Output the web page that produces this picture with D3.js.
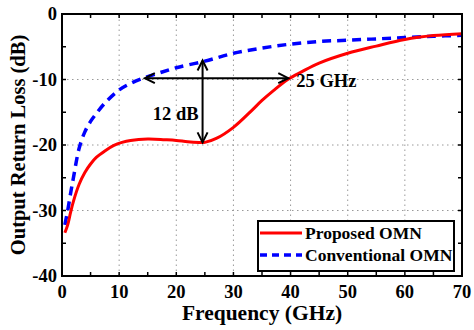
<!DOCTYPE html>
<html><head><meta charset="utf-8">
<script src="https://cdn.jsdelivr.net/npm/d3@7"></script>
<style>body{margin:0;background:#fff}svg{display:block}
text{font-family:"Liberation Serif","Times New Roman",serif;font-weight:bold}</style>
</head><body>
<script>
const proposedF = [0.5,1,1.5,2,3,4,5,6,7.5,9,10.5,12,15,18,20,22,24,25,27,30,33,35,37,39.5,42,45,50,55,60,65,70];
const proposedDB = [-33.4,-32.2,-30.3,-28.6,-26.0,-24.2,-22.9,-21.9,-20.9,-20.1,-19.6,-19.3,-19.1,-19.2,-19.3,-19.5,-19.6,-19.6,-19.0,-17.3,-14.9,-13.2,-11.7,-10.0,-8.8,-7.5,-6.0,-4.9,-3.9,-3.3,-3.0];
const convF = [0.5,1,1.5,2,3,4,5,6,7.5,10,12,14.5,17,20,25,30,35,40,45,50,55,60,65,70];
const convDB = [-32.2,-30.0,-27.4,-25.0,-20.5,-18.0,-16.4,-15.2,-13.6,-11.6,-10.6,-9.7,-9.0,-8.2,-7.2,-6.0,-5.2,-4.6,-4.2,-4.0,-3.8,-3.6,-3.4,-3.25];
const xTicks = [0,10,20,30,40,50,60,70];
const yTicks = [0,-10,-20,-30,-40];
const seriesNames = ["Proposed OMN","Conventional OMN"];
const hArrowF = [14.5, 39.6], hArrowDB = -9.8;
const vArrowF = 24.6, vArrowDB = [-7.1, -19.6];
const labels = ["25 GHz","12 dB"];

const W=474,H=330, m={l:62,r:12,t:14,b:54};
const svg=d3.select("body").append("svg").attr("width",W).attr("height",H);
const x=d3.scaleLinear().domain([0,70]).range([m.l,W-m.r]);
const y=d3.scaleLinear().domain([-40,0]).range([H-m.b,m.t]);

// grid
const g=svg.append("g");
g.selectAll(".gx").data(xTicks.slice(1,-1)).join("line")
 .attr("x1",d=>x(d)).attr("x2",d=>x(d)).attr("y1",y(-40)).attr("y2",y(0))
 .attr("stroke","#999").attr("stroke-width",1).attr("stroke-dasharray","1.5,3.5");
g.selectAll(".gy").data(yTicks.slice(1,-1)).join("line")
 .attr("y1",d=>y(d)).attr("y2",d=>y(d)).attr("x1",x(0)).attr("x2",x(70))
 .attr("stroke","#999").attr("stroke-width",1).attr("stroke-dasharray","1.5,3.5");

// ticks every 5, inward
const tk=svg.append("g").attr("stroke","#000").attr("stroke-width",1.5);
d3.range(5,70,5).forEach(v=>{
  tk.append("line").attr("x1",x(v)).attr("x2",x(v)).attr("y1",y(-40)).attr("y2",y(-40)-4);
  tk.append("line").attr("x1",x(v)).attr("x2",x(v)).attr("y1",y(0)).attr("y2",y(0)+4);
});
d3.range(-35,0,5).forEach(v=>{
  tk.append("line").attr("y1",y(v)).attr("y2",y(v)).attr("x1",x(0)).attr("x2",x(0)+4);
  tk.append("line").attr("y1",y(v)).attr("y2",y(v)).attr("x1",x(70)).attr("x2",x(70)-4);
});

// axes labels
svg.append("g").selectAll("text").data(xTicks).join("text")
 .attr("x",d=>x(d)).attr("y",y(-40)+22).attr("text-anchor","middle")
 .attr("font-size",18.5).text(d=>d);
svg.append("g").selectAll("text").data(yTicks).join("text")
 .attr("x",x(0)-5).attr("y",d=>y(d)+6).attr("text-anchor","end")
 .attr("font-size",18.5).text(d=>d);
svg.append("text").attr("x",(x(0)+x(70))/2).attr("y",H-10).attr("text-anchor","middle")
 .attr("font-size",21.5).text("Frequency (GHz)");
svg.append("text").attr("transform",`translate(25,${(y(0)+y(-40))/2}) rotate(-90)`).attr("text-anchor","middle")
 .attr("font-size",20.5).text("Output Return Loss (dB)");

// curves
const line=d3.line().curve(d3.curveCatmullRom.alpha(0.5)).x(d=>x(d[0])).y(d=>y(d[1]));
svg.append("clipPath").attr("id","c").append("rect").attr("x",x(0)).attr("y",y(0)).attr("width",x(70)-x(0)).attr("height",y(-40)-y(0));
svg.append("path").attr("clip-path","url(#c)").datum(convF.map((f,i)=>[f,convDB[i]])).attr("d",line)
 .attr("fill","none").attr("stroke","#0000ff").attr("stroke-width",3.5).attr("stroke-dasharray","9,6");
svg.append("path").attr("clip-path","url(#c)").datum(proposedF.map((f,i)=>[f,proposedDB[i]])).attr("d",line)
 .attr("fill","none").attr("stroke","#ff0000").attr("stroke-width",3);

// arrows
const ar=svg.append("g").attr("stroke","#000").attr("stroke-width",2).attr("fill","none");
const hy=y(hArrowDB), hx1=x(hArrowF[0]), hx2=x(hArrowF[1]);
ar.append("line").attr("x1",hx1).attr("x2",hx2).attr("y1",hy).attr("y2",hy);
ar.append("path").attr("d",`M${hx1+10},${hy-5}L${hx1},${hy}L${hx1+10},${hy+5}`);
ar.append("path").attr("d",`M${hx2-10},${hy-5}L${hx2},${hy}L${hx2-10},${hy+5}`);
const vx=x(vArrowF), vy1=y(vArrowDB[0]), vy2=y(vArrowDB[1]);
ar.append("line").attr("x1",vx).attr("x2",vx).attr("y1",vy1).attr("y2",vy2);
ar.append("path").attr("d",`M${vx-5},${vy1+10}L${vx},${vy1}L${vx+5},${vy1+10}`);
ar.append("path").attr("d",`M${vx-5},${vy2-10}L${vx},${vy2}L${vx+5},${vy2-10}`);
svg.append("text").attr("x",hx2+8).attr("y",hy+9).attr("font-size",18.5).text(labels[0]);
svg.append("text").attr("x",vx-4).attr("y",120).attr("text-anchor","end").attr("font-size",18.5).text(labels[1]);

// frame
svg.append("rect").attr("x",x(0)).attr("y",y(0)).attr("width",x(70)-x(0)).attr("height",y(-40)-y(0))
 .attr("fill","none").attr("stroke","#000").attr("stroke-width",2);

// legend
const lg=svg.append("g");
lg.append("rect").attr("x",258).attr("y",221).attr("width",196).attr("height",50).attr("fill","#fff").attr("stroke","#000").attr("stroke-width",2);
const lc=[["#ff0000",null,3],["#0000ff","7,5",3.5]];
seriesNames.forEach((n,i)=>{
  const yy=233+i*22;
  lg.append("line").attr("x1",260).attr("x2",302).attr("y1",yy).attr("y2",yy).attr("stroke",lc[i][0]).attr("stroke-width",lc[i][2]).attr("stroke-dasharray",lc[i][1]);
  lg.append("text").attr("x",305).attr("y",yy+5.5).attr("font-size",17.5).text(n);
});
</script>
</body></html>
